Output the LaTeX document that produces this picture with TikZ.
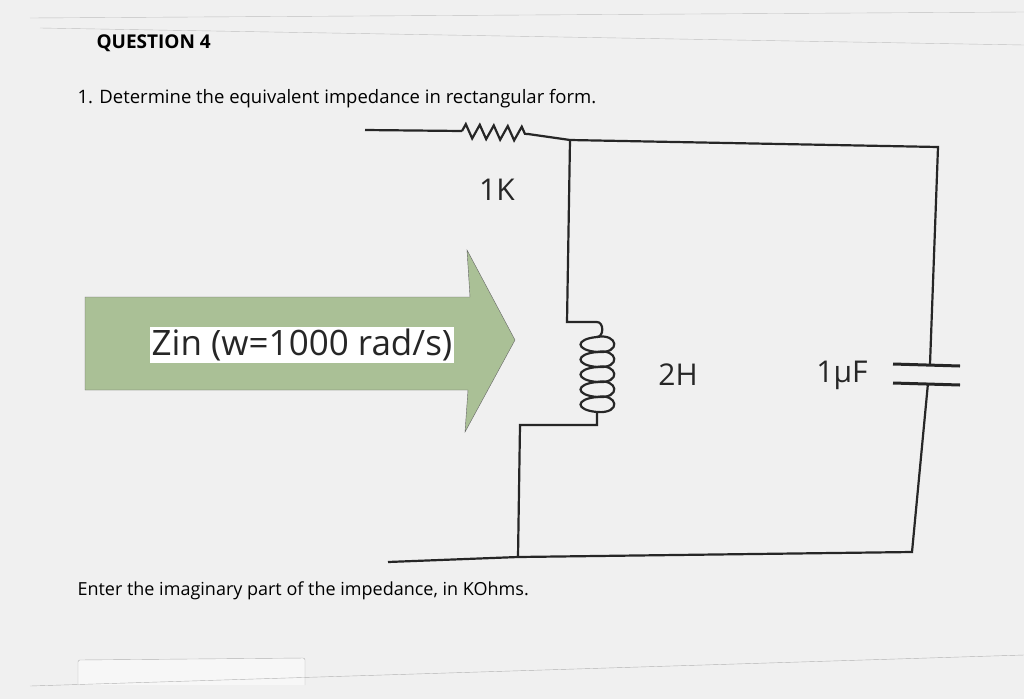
\documentclass[tikz,border=0pt]{standalone}
\usepackage{fontspec}
\setmainfont{Open Sans}
\usetikzlibrary{decorations.pathmorphing}
\begin{document}
\begin{tikzpicture}[x=1pt,y=-1pt,
  wire/.style={line width=2.2pt,black!85},
  lbl/.style={font=\fontsize{30}{32}\selectfont,text=black!85}]
\fill[black!6] (0,0) rectangle (1024,699);
\useasboundingbox (0,0) rectangle (1024,699);
\draw[black!25] (30,18) -- (1024,12);
\draw[black!25] (40,28) -- (1024,45);
\node[anchor=west,font=\bfseries\fontsize{19}{21}\selectfont] (q) at (93,43) {QUESTION 4};
\node[anchor=west,font=\fontsize{18.5}{20}\selectfont] (d) at (74,99) {1. Determine the equivalent impedance in rectangular form.};
% arrow
\draw[black!60,fill={rgb,255:red,170;green,192;blue,150}] (85,297) -- (470,297) -- (467,250) -- (515,340) -- (465,432) -- (468,390) -- (85,390) -- cycle;
\node[lbl,font=\fontsize{35}{37}\selectfont,fill=white,inner sep=2pt] (z) at (302,345) {Zin (w=1000 rad/s)};
% circuit coordinates
\coordinate (in) at (365,130);
\coordinate (ra) at (462,131);
\coordinate (rb) at (528,134);
\coordinate (t1) at (570,140);
\coordinate (t2) at (938,147);
\coordinate (c1) at (930,364);
\coordinate (c2) at (928,383);
\coordinate (b2) at (912,552);
\coordinate (b1) at (518,557);
\coordinate (out) at (388,562);
\coordinate (l1) at (567,322);
\coordinate (l2) at (597,322);
\coordinate (l3) at (597,425);
\coordinate (l4) at (520,425);
\draw[wire] (in) -- (ra);
\draw[wire,decorate,decoration={zigzag,segment length=14pt,amplitude=7pt}] (ra) -- (rb);
\draw[wire] (rb) -- (t1) -- (t2) -- (c1);
\draw[line width=3pt,black!85] (893,364) -- (960,366);
\draw[line width=3pt,black!85] (893,383) -- (960,385);
\draw[wire] (c2) -- (b2) -- (b1) -- (out);
\draw[wire] (t1) -- (l1) -- (l2);
\draw[wire] (l2) to[out=0,in=0,looseness=1.2] (597,337);
\foreach \y in {337,352,367,382,397} {
  \draw[wire] (597,\y) .. controls (575,\y+2) and (575,\y+13) .. (597,\y+15);
  \draw[wire] (597,\y) .. controls (618,\y-4) and (622,\y+17) .. (597,\y+15);
}
\draw[wire] (597,412) -- (l3) -- (l4) -- (b1);
\node[lbl] (r) at (497,190) {1K};
\node[lbl] (ind) at (678,375) {2H};
\node[lbl] (cap) at (842,375) {1µF};
\node[anchor=west,font=\fontsize{18}{20}\selectfont] (e) at (74,591) {Enter the imaginary part of the impedance, in KOhms.};
\draw[black!30,fill=black!3,rounded corners=2pt] (78,685) -- (78,660) -- (305,658) -- (305,685);
\draw[black!30] (30,686) -- (1024,655);
\end{tikzpicture}
\end{document}
